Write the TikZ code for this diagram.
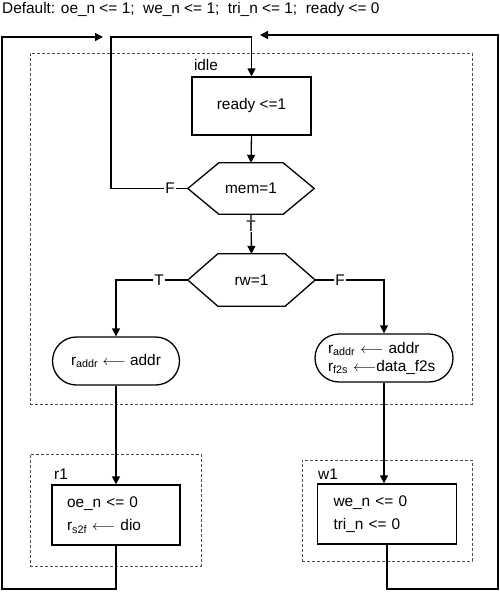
\documentclass[tikz,border=0pt]{standalone}
\usepackage{fontspec}
\setmainfont{Liberation Sans}
\usetikzlibrary{arrows.meta,shapes.misc}
\begin{document}
\begin{tikzpicture}[x=1pt,y=-1pt,
  font=\fontsize{15.4}{18}\selectfont,
  line/.style={line width=1.3pt},
  arr/.style={line, -{Triangle[length=8pt,width=8pt]}},
  sbox/.style={draw, line width=1.3pt, rectangle, inner sep=0pt},
  rbox/.style={draw, line width=1.3pt, rounded rectangle, inner sep=0pt},
  hexnode/.style={rectangle, inner sep=0pt},
  hexline/.style={line width=1.3pt},
  region/.style={draw=black!70, line width=0.6pt, dash pattern=on 3pt off 2pt},
  lbl/.style={fill=white, inner sep=1pt},
  plain/.style={inner sep=0pt}]
\useasboundingbox (0,0) rectangle (500,592);

% title
\node[plain, anchor=west] (title) at (2,10) {Default: oe\_n <= 1;\ \ we\_n <= 1;\ \ tri\_n <= 1;\ \ ready <= 0};

% dashed state regions
\node[region, minimum width=442pt, minimum height=351pt] (idlereg) at (251,228.5) {};
\node[plain] (idlelbl) at (206,65) {idle};
\node[region, minimum width=171pt, minimum height=112pt] (r1reg) at (115.5,510) {};
\node[plain] (r1lbl) at (61,474) {r1};
\node[region, minimum width=170pt, minimum height=101pt] (w1reg) at (387,510.5) {};
\node[plain] (w1lbl) at (328,474) {w1};

% idle state
\node[sbox, minimum width=119pt, minimum height=58pt] (ready) at (251.5,106) {ready <=1};

\node[hexnode, minimum width=126pt, minimum height=51pt] (mem) at (251,188.5) {mem=1};
\draw[hexline] (mem.west) -- ([xshift=31pt]mem.north west) -- ([xshift=-31pt]mem.north east)
  -- (mem.east) -- ([xshift=-31pt]mem.south east) -- ([xshift=31pt]mem.south west) -- cycle;

\node[hexnode, minimum width=127pt, minimum height=52pt] (rw) at (251.5,280) {rw=1};
\draw[hexline] (rw.west) -- ([xshift=30pt]rw.north west) -- ([xshift=-30pt]rw.north east)
  -- (rw.east) -- ([xshift=-30pt]rw.south east) -- ([xshift=30pt]rw.south west) -- cycle;

\node[rbox, minimum width=127pt, minimum height=48pt] (rad) at (116,361)
  {r\textsubscript{addr} $\longleftarrow$ addr};
\node[rbox, minimum width=138pt, minimum height=48pt, inner xsep=0pt, text width=112pt, align=left] (rws) at (384,358)
  {r\textsubscript{addr} $\longleftarrow$ addr\\[0pt]r\textsubscript{f2s} $\longleftarrow$data\_f2s};

% r1 and w1 states
\node[sbox, minimum height=60pt, inner xsep=15pt, text width=98pt, align=left] (r1box) at (116,515)
  {oe\_n <= 0\\[5pt]r\textsubscript{s2f} $\longleftarrow$ dio};
\node[sbox, minimum height=60pt, inner xsep=16pt, text width=107pt, align=left] (w1box) at (387,514)
  {we\_n <= 0\\[5pt]tri\_n <= 0};

% loop entry points
\coordinate (lin) at (103,37);
\coordinate (rin) at (260,35);

% connectors
\draw[arr] (ready.south) -- (mem.north);
\draw[arr] (mem.west) -- node[lbl, pos=0.23]{F} (111,188.5) |- (251.5,37) -- (ready.north);
\draw[arr] (mem.south) -- node[lbl, pos=0.3]{T} (rw.north);
\draw[arr] (rw.west) -| node[lbl, pos=0.2]{T} (rad.north);
\draw[arr] (rw.east) -| node[lbl, pos=0.18]{F} (rws.north);
\draw[arr] (rad.south) -- (r1box.north);
\draw[arr] (rws.south) -- (rws.south |- w1box.north);
\draw[arr] (r1box.south) -- (116,589) -| (2,37) -- (lin);
\draw[arr] (w1box.south) -- (387,589) -| (498,35) -- (rin);
\end{tikzpicture}
\end{document}
